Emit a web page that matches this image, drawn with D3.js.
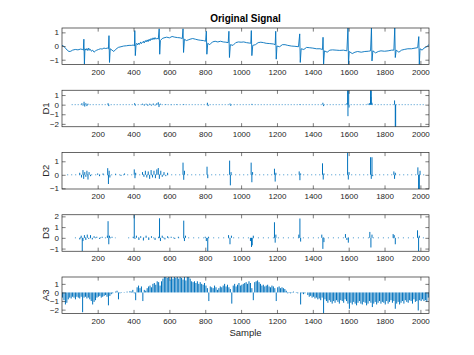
<!DOCTYPE html>
<html><head><meta charset="utf-8">
<script src="https://cdn.jsdelivr.net/npm/d3@7"></script>
<style>
html,body{margin:0;padding:0;background:#fff;}
svg{display:block;font-family:"Liberation Sans",Arial,sans-serif;}
</style></head>
<body><svg id="chart" width="474" height="355"></svg>
<script>
// ---------------- data ----------------
const sampleDomain = [1, 2048];
const xTicks = [200, 400, 600, 800, 1000, 1200, 1400, 1600, 1800, 2000];

const sigTicks = [-1, 0, 1];
const d1Ticks = [-2, -1, 0, 1];
const d2Ticks = [-1, 0, 1];
const d3Ticks = [-1, 0, 1, 2];
const a3Ticks = [-2, -1, 0, 1];

// original signal as [sample, value]
const signal = [[1,0.05],[10,0.0],[20,-0.15],[30,-0.3],[40,-0.4],[50,-0.38],[60,-0.3],[75,-0.25],[90,-0.28],[105,-0.22],[115,-0.25],[120,-0.3],[123,0.5],[126,-1.33],[129,-0.2],[135,-0.3],[140,-0.18],[145,-0.33],[150,-0.15],[155,-0.3],[160,-0.25],[165,-0.38],[172,-0.3],[180,-0.45],[188,-0.35],[195,-0.3],[205,-0.25],[215,-0.2],[225,-0.22],[235,-0.15],[245,-0.18],[255,-0.15],[260,-0.2],[263,0.76],[266,-1.2],[270,-0.2],[280,-0.3],[290,-0.4],[300,-0.25],[315,-0.1],[330,-0.05],[345,0.0],[360,0.02],[375,0.05],[390,0.05],[400,0.08],[405,0.0],[407,1.13],[410,-0.7],[414,0.1],[418,0.2],[423,0.08],[429,0.22],[433,0.12],[440,0.3],[444,0.18],[449,0.25],[455,0.35],[459,0.22],[466,0.4],[470,0.3],[476,0.45],[481,0.32],[487,0.5],[492,0.38],[498,0.55],[503,0.45],[509,0.6],[514,0.48],[520,0.62],[526,0.5],[532,0.58],[538,0.5],[543,1.26],[546,-0.6],[550,0.4],[560,0.55],[570,0.6],[585,0.65],[600,0.6],[615,0.7],[630,0.65],[645,0.62],[660,0.6],[672,0.55],[676,1.26],[679,-0.47],[684,0.5],[695,0.4],[705,0.45],[715,0.5],[730,0.55],[745,0.5],[760,0.45],[775,0.42],[790,0.4],[802,0.35],[806,1.08],[809,-0.6],[814,0.2],[825,0.1],[840,0.3],[855,0.35],[870,0.3],[885,0.35],[900,0.3],[915,0.28],[928,0.25],[932,1.08],[935,-0.84],[940,0.1],[955,0.05],[970,0.25],[985,0.3],[1000,0.28],[1015,0.3],[1030,0.25],[1045,0.22],[1054,0.2],[1057,1.13],[1060,-0.7],[1065,0.05],[1080,0.1],[1095,0.25],[1110,0.28],[1125,0.25],[1140,0.2],[1160,0.18],[1180,0.15],[1190,0.1],[1193,1.08],[1196,-0.96],[1200,0.0],[1215,-0.05],[1230,0.1],[1245,0.1],[1260,0.05],[1280,0.0],[1300,-0.02],[1320,-0.05],[1327,0.89],[1330,-1.2],[1335,-0.2],[1350,-0.25],[1365,-0.1],[1380,-0.12],[1400,-0.15],[1420,-0.2],[1440,-0.2],[1454,-0.25],[1457,0.64],[1460,-1.33],[1465,-0.35],[1480,-0.45],[1495,-0.3],[1510,-0.28],[1530,-0.3],[1550,-0.32],[1570,-0.3],[1590,-0.35],[1596,1.32],[1599,-1.35],[1603,-0.4],[1620,-0.55],[1635,-0.45],[1650,-0.4],[1670,-0.45],[1690,-0.4],[1710,-0.38],[1722,-0.35],[1727,1.32],[1730,-1.09],[1735,-0.35],[1750,-0.5],[1765,-0.4],[1780,-0.35],[1800,-0.38],[1820,-0.35],[1840,-0.3],[1852,-0.3],[1857,1.32],[1860,-0.84],[1865,-0.3],[1880,-0.45],[1895,-0.3],[1910,-0.25],[1930,-0.2],[1950,-0.2],[1970,-0.15],[1985,-0.12],[1991,0.69],[1994,-1.35],[1998,-0.2],[2010,-0.3],[2020,-0.15],[2035,-0.05],[2048,0.1]];

// detail coefficients as stems [sample, value]
const d1 = [[112,0.15],[118,-0.1],[124,0.3],[128,-0.2],[134,0.15],[140,-0.15],[146,0.1],[258,0.15],[262,-0.15],[406,0.15],[410,-0.1],[450,0.1],[460,-0.1],[470,0.1],[480,-0.12],[490,0.1],[500,-0.1],[510,0.12],[520,-0.1],[530,0.15],[538,0.25],[542,-0.25],[550,0.1],[580,0.06],[610,-0.05],[640,0.05],[680,0.07],[812,0.2],[816,-0.15],[938,0.12],[942,-0.12],[1060,0.08],[1328,0.06],[1456,0.2],[1460,-0.15],[1590,0.15],[1594,1.5],[1596,-1.2],[1600,1.5],[1602,-0.3],[1708,0.1],[1716,0.15],[1722,1.5],[1724,0.8],[1726,1.5],[1730,0.2],[1856,0.44],[1860,-2.3],[1862,-2.3]];
const d2 = [[100,0.15],[110,-0.2],[118,0.35],[122,-0.3],[128,0.2],[134,-0.15],[140,0.3],[146,-0.35],[152,0.2],[160,-0.1],[200,0.1],[210,-0.1],[230,0.1],[256,0.49],[260,-0.68],[264,0.3],[268,-0.2],[300,0.08],[330,-0.08],[350,0.1],[404,0.4],[408,-0.25],[412,0.15],[450,0.2],[458,-0.15],[466,0.3],[474,-0.2],[482,0.25],[490,-0.3],[498,0.35],[506,-0.2],[514,0.3],[522,-0.25],[530,0.4],[538,0.5],[544,-0.3],[552,0.3],[560,-0.15],[570,0.2],[580,-0.1],[590,0.15],[676,0.9],[680,-0.37],[684,0.3],[810,0.6],[814,-0.25],[936,1.05],[940,-0.78],[944,0.2],[1056,0.9],[1060,-0.55],[1064,0.2],[1186,0.45],[1190,-0.5],[1194,0.15],[1324,0.25],[1328,-0.4],[1332,0.1],[1454,0.85],[1458,-0.35],[1462,0.1],[1594,1.65],[1598,-0.35],[1602,0.2],[1722,1.3],[1726,-0.3],[1730,1.3],[1734,-0.1],[1852,0.25],[1856,-0.3],[1860,0.15],[1986,0.55],[1990,-1.05],[1994,-1.05],[1998,0.3]];
const d3s = [[100,-0.15],[108,0.2],[114,-1.25],[118,-0.3],[126,0.25],[134,-0.2],[142,0.3],[150,-0.1],[160,0.25],[170,-0.15],[180,0.15],[195,0.1],[210,-0.1],[225,0.1],[254,0.2],[258,1.55],[262,-0.6],[266,0.2],[280,0.1],[398,0.1],[404,2.15],[408,-0.1],[416,0.2],[430,-0.2],[440,0.15],[455,-0.25],[470,0.2],[485,-0.2],[500,0.15],[520,-0.2],[540,0.1],[545,1.82],[550,-0.3],[560,0.2],[575,-0.15],[590,0.15],[610,0.1],[630,-0.1],[650,0.1],[680,1.6],[684,-0.3],[690,0.2],[800,0.1],[806,-0.3],[814,-1.25],[818,0.1],[930,0.25],[938,-0.6],[946,0.2],[1052,-0.3],[1058,-0.85],[1062,-0.7],[1068,0.2],[1186,1.45],[1190,-0.45],[1194,0.3],[1322,0.3],[1328,1.8],[1332,-0.35],[1450,0.3],[1456,-1.03],[1462,-0.4],[1582,0.35],[1590,-0.2],[1598,-0.45],[1718,0.55],[1724,-0.9],[1730,0.3],[1848,0.35],[1854,0.25],[1860,-0.6],[1984,0.7],[1990,-1.25],[1994,0.2]];

// sample ranges where coefficients are ~0 (drawn as dotted runs)
const d1Zero = [[55, 2030]];
const d2Zero = [[30, 2035]];
const d3Zero = [[73, 300], [370, 1000], [1010, 2040]];

// approximation A3: one value every 8 samples
const a3Start = 4;
const a3Step = 8;
const a3 = [
-0.6,-0.9,-1.4,-1.2,-0.8,-0.6,-0.7,-0.5,-0.6,-0.8,-0.5,-0.6,-0.7,-0.5,-2.3,-0.6,
-0.5,-0.7,-0.6,-0.8,-1.0,-1.4,-1.1,-0.9,-0.6,-0.5,-0.4,-0.6,-0.5,-0.4,-0.3,-0.5,
-1.5,-0.4,-0.2,-0.1,0.0,0.1,0.2,-0.8,-0.1,0.05,0.0,-0.05,0.0,0.1,0.0,0.15,
0.1,0.3,-0.1,-0.9,0.6,0.8,0.5,0.7,-1.0,0.3,0.2,0.5,0.7,0.8,0.6,1.0,
1.1,0.9,1.3,1.2,0.8,1.3,1.6,1.8,1.8,1.7,1.8,1.5,1.8,1.6,1.8,1.7,
1.8,1.6,1.8,1.7,1.5,1.8,1.4,1.8,1.8,1.6,1.3,1.2,1.3,1.1,1.3,1.0,
1.2,1.0,0.9,1.1,0.8,0.5,-1.0,0.7,0.6,0.5,0.8,0.6,0.3,0.5,0.7,0.6,
0.8,1.0,0.7,0.9,0.6,0.4,-1.3,0.8,1.0,0.7,0.9,1.1,0.8,0.9,1.0,1.1,
1.2,1.0,1.3,1.1,0.5,-0.9,1.2,1.3,1.4,1.2,1.0,0.8,0.9,0.7,0.8,0.9,
0.7,0.6,0.8,0.7,0.5,-1.0,0.6,0.7,0.5,0.6,0.5,0.4,0.2,-0.1,0.05,-0.1,
-0.05,0.1,0.0,0.05,-0.1,0.0,-1.4,-0.1,-0.2,-0.1,0.0,-0.3,-0.5,-0.4,-0.6,-0.5,
-0.7,-0.6,-0.8,-0.7,-0.9,-0.6,-2.45,-0.8,-1.0,-1.2,-0.9,-1.1,-1.3,-1.0,-1.2,-0.9,
-1.1,-1.3,-0.9,-1.0,-1.2,-0.8,-1.0,-1.3,-1.9,-1.2,-1.4,-1.1,-1.3,-1.5,-1.2,-1.0,
-1.3,-1.4,-1.1,-1.2,-1.5,-1.3,-1.0,-1.2,-1.7,-1.3,-1.1,-1.4,-1.2,-1.0,-1.3,-1.1,
-1.2,-1.4,-1.0,-1.3,-1.1,-0.9,-1.2,-1.0,-1.9,-1.3,-1.1,-1.4,-1.2,-1.0,-1.3,-0.9,
-1.1,-1.2,-0.9,-1.0,-1.3,-0.8,-1.1,-1.0,-2.1,-0.9,-1.0,-0.8,-1.0,-0.9,-1.1,-0.6
];
const a3Stems = a3.map((v, i) => [a3Start + a3Step * i, v]);

// ---------------- layout ----------------
const BLUE = "#0072BD";
const AX = "#262626";
const left = 62, right = 429;
const panelTop = 28, panelStep = 62.25, panelH = 36.5;
const tickLen = 3.6;

const panels = [
  {kind: "line", data: signal, ticks: sigTicks, label: null, title: "Original Signal"},
  {kind: "stem", data: d1, zero: d1Zero, dash: "1,2", ticks: d1Ticks, label: "D1"},
  {kind: "stem", data: d2, zero: d2Zero, dash: "1,3", ticks: d2Ticks, label: "D2"},
  {kind: "stem", data: d3s, zero: d3Zero, dash: "1,4", ticks: d3Ticks, label: "D3"},
  {kind: "stem", data: a3Stems, zero: null, ticks: a3Ticks, label: "A3", xlabel: "Sample"}
];

const svg = d3.select("#chart");
const x = d3.scaleLinear().domain(sampleDomain).range([left, right]);

panels.forEach((p, k) => {
  const top = panelTop + panelStep * k, bottom = top + panelH;
  const y = d3.scaleLinear().domain(d3.extent(p.data, d => d[1])).range([bottom, top]);
  const g = svg.append("g");
  const clipId = "clip" + k;
  svg.append("clipPath").attr("id", clipId).append("rect")
    .attr("x", left).attr("y", top).attr("width", right - left).attr("height", panelH);
  const plot = g.append("g").attr("clip-path", `url(#${clipId})`);

  if (p.kind === "line") {
    plot.append("path").datum(p.data)
      .attr("fill", "none").attr("stroke", BLUE).attr("stroke-width", 0.9)
      .attr("stroke-linejoin", "round")
      .attr("d", d3.line().x(d => x(d[0])).y(d => y(d[1])));
  } else {
    if (p.zero) {
      plot.selectAll("line.zero").data(p.zero).join("line").attr("class", "zero")
        .attr("x1", d => x(d[0])).attr("x2", d => x(d[1]))
        .attr("y1", y(0)).attr("y2", y(0))
        .attr("stroke", BLUE).attr("stroke-width", 1).attr("stroke-opacity", 0.75)
        .attr("stroke-dasharray", p.dash);
    }
    plot.selectAll("line.stem").data(p.data).join("line").attr("class", "stem")
      .attr("x1", d => x(d[0])).attr("x2", d => x(d[0]))
      .attr("y1", y(0)).attr("y2", d => y(d[1]))
      .attr("stroke", BLUE).attr("stroke-width", 1);
  }

  // axes (ticks inside, mirrored)
  const ax = (gen, tx, ty) => {
    const a = g.append("g").attr("transform", `translate(${tx},${ty})`).call(gen);
    a.select(".domain").remove();
    a.selectAll(".tick line").attr("stroke", AX).attr("stroke-width", 0.6);
    a.selectAll("text").attr("fill", AX).attr("font-size", 8)
      .attr("font-family", '"Liberation Sans",Arial,sans-serif');
    return a;
  };
  ax(d3.axisBottom(x).tickValues(xTicks).tickFormat(d3.format("d")).tickSizeInner(-tickLen).tickSizeOuter(0).tickPadding(4.5), 0, bottom);
  ax(d3.axisTop(x).tickValues(xTicks).tickFormat("").tickSizeInner(-tickLen).tickSizeOuter(0), 0, top);
  ax(d3.axisLeft(y).tickValues(p.ticks).tickFormat(d3.format("d")).tickSizeInner(-tickLen).tickSizeOuter(0).tickPadding(3), left, 0);
  ax(d3.axisRight(y).tickValues(p.ticks).tickFormat("").tickSizeInner(-tickLen).tickSizeOuter(0), right, 0);

  g.append("rect").attr("x", left).attr("y", top).attr("width", right - left).attr("height", panelH)
    .attr("fill", "none").attr("stroke", AX).attr("stroke-width", 0.7);

  if (p.title) {
    svg.append("text").attr("x", (left + right) / 2).attr("y", top - 6.5)
      .attr("text-anchor", "middle").attr("font-size", 10).attr("font-weight", "bold")
      .attr("fill", "#000").text(p.title);
  }
  if (p.label) {
    svg.append("text").attr("transform", `translate(49,${(top + bottom) / 2}) rotate(-90)`)
      .attr("text-anchor", "middle").attr("font-size", 9.5).attr("fill", AX).text(p.label);
  }
  if (p.xlabel) {
    svg.append("text").attr("x", (left + right) / 2).attr("y", bottom + 22)
      .attr("text-anchor", "middle").attr("font-size", 9.5).attr("fill", AX).text(p.xlabel);
  }
});
</script></body></html>
